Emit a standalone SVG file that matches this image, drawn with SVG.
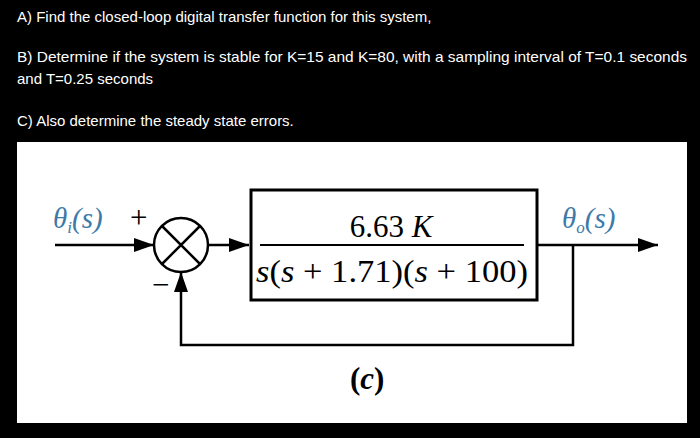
<svg xmlns="http://www.w3.org/2000/svg" width="700" height="438" viewBox="0 0 700 438">
<style>
.t{font-family:"Liberation Sans",sans-serif;font-size:15px;fill:#fff}
.m{font-family:"Liberation Serif",serif;font-size:31px;fill:#000}
.b{font-family:"Liberation Serif",serif;font-size:29px;fill:#3d7aa8;font-style:italic}
.l{stroke:#000;stroke-width:2.5;fill:none}
</style>
<defs><marker id="a2" markerWidth="20" markerHeight="14" refX="20" refY="7" orient="auto" markerUnits="userSpaceOnUse" viewBox="0 0 20 14"><path d="M0,0L20,7L0,14z" fill="#000"/></marker></defs>
<rect width="700" height="438" fill="#000"/>
<text class="t" x="17" y="22">A) Find the closed-loop digital transfer function for this system,</text>
<text class="t" x="17" y="62" textLength="670" lengthAdjust="spacingAndGlyphs">B) Determine if the system is stable for K=15 and K=80, with a sampling interval of T=0.1 seconds</text>
<text class="t" x="17" y="84">and T=0.25 seconds</text>
<text class="t" x="17" y="126">C) Also determine the steady state errors.</text>
<rect x="17" y="142" width="670" height="281" fill="#fff"/>
<g id="sum"><circle cx="181" cy="245" r="27" class="l"/><path d="M162,226L200,264M200,226L162,264" class="l"/>
<text class="m" x="130" y="228" font-size="26">+</text><text class="m" x="152" y="295" font-size="22">−</text></g>
<g id="plant"><rect x="251" y="190" width="286" height="110" stroke="#000" stroke-width="3" fill="#fff"/>
<line x1="260" y1="245" x2="524" y2="245" stroke="#000" stroke-width="2"/>
<text class="m" x="391" y="237" text-anchor="middle">6.63 <tspan font-style="italic">K</tspan></text>
<text class="m" x="256" y="282" textLength="272" lengthAdjust="spacingAndGlyphs"><tspan font-style="italic">s</tspan>(<tspan font-style="italic">s</tspan> + 1.71)(<tspan font-style="italic">s</tspan> + 100)</text></g>
<g id="labels"><text class="b" x="53" y="228">θ<tspan font-size="17" dy="5">i</tspan><tspan dy="-5">(s)</tspan></text>
<text class="b" x="562" y="228">θ<tspan font-size="17" dy="5">o</tspan><tspan dy="-5">(s)</tspan></text>
<text class="m" x="350" y="389" font-size="30" font-weight="bold">(<tspan font-style="italic">c</tspan>)</text></g>
<g id="connectors">
<line x1="55" y1="245" x2="154" y2="245" class="l" marker-end="url(#a2)"/>
<line x1="208" y1="245" x2="249" y2="245" class="l" marker-end="url(#a2)"/>
<line x1="537" y1="245" x2="658" y2="245" class="l" marker-end="url(#a2)"/>
<path d="M573,245V345H181V272" class="l" marker-end="url(#a2)"/>
</g>
</svg>
